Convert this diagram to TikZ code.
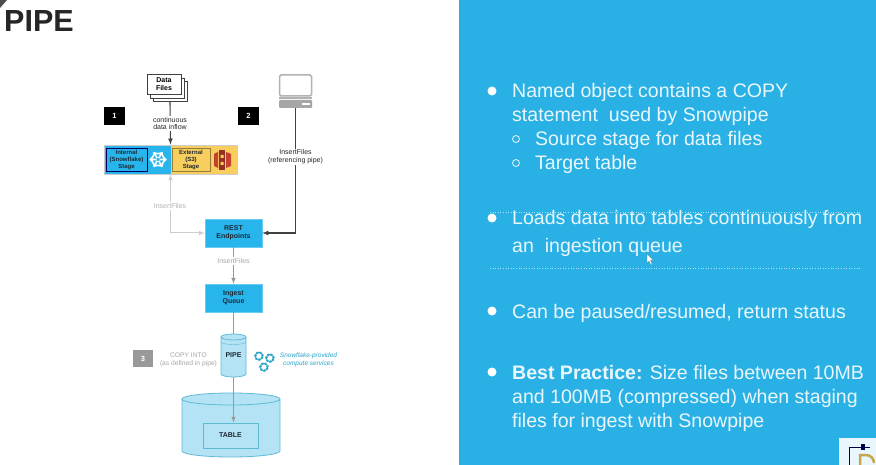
\documentclass[tikz,border=0pt]{standalone}
\usepackage{fontspec}
\setmainfont{Liberation Sans}
\usetikzlibrary{arrows,scopes}
\definecolor{panelblue}{HTML}{29B1E6}
\definecolor{boxblue}{HTML}{27B5EC}
\definecolor{stageyellow}{HTML}{F8CF5F}
\definecolor{pipeblue}{HTML}{B4E3F5}
\definecolor{pipeline}{HTML}{5FBAD6}
\definecolor{paletext}{HTML}{E9F7FC}
\definecolor{gearblue}{HTML}{2AA5C8}
\definecolor{darktext}{HTML}{1F2A33}
\definecolor{bucketred}{HTML}{C5402F}
\tikzset{
  sheet/.style={draw=black!75,fill=white,line width=0.6pt,minimum width=34,minimum height=20,inner sep=0pt,font=\fontsize{7}{8}\selectfont\bfseries,align=center},
  numbox/.style={fill=black,text=white,minimum width=21,minimum height=18,inner sep=0pt,font=\fontsize{7.5}{8}\selectfont\bfseries},
  bluebox/.style={fill=boxblue,draw=boxblue!70!white,minimum width=57,minimum height=28,inner sep=0pt,align=center,font=\fontsize{7}{8}\selectfont\bfseries,text=darktext},
  small/.style={font=\fontsize{7}{7.7}\selectfont,align=center,inner sep=1pt},
  stagelabel/.style={minimum height=23,inner sep=0pt,line width=0.7pt,align=center,font=\fontsize{6}{7}\selectfont\bfseries,text=darktext},
  bullet/.style={circle,fill=white,minimum size=9,inner sep=0pt},
  subbullet/.style={circle,draw=paletext,line width=0.8pt,minimum size=7,inner sep=0pt},
  panel/.style={anchor=base west,text=paletext,inner sep=0pt,font=\fontsize{19.55}{23}\selectfont},
  gear/.style={draw=gearblue,line width=1pt,circle,minimum size=7.5,inner sep=0pt,postaction={draw=gearblue,line width=2.2pt,dash pattern=on 1.5pt off 1.9pt}},
  tankline/.style={draw=pipeline,fill=pipeblue,line width=0.8pt},
  dots/.style={draw=paletext!70!panelblue,line width=0.8pt,dash pattern=on 0.8pt off 1.8pt},
}
% left, top, bottom, x radius, y radius
\newcommand{\tankshape}[5]{
  \draw[tankline] (#1,#2) -- (#1,#3) arc[start angle=180,end angle=360,x radius=#4pt,y radius=#5pt]
    -- ++(0,#2-#3) arc[start angle=0,end angle=360,x radius=#4pt,y radius=#5pt];
}
\begin{document}
\begin{tikzpicture}
  [
  x=1pt, y=-1pt,
  flow/.style={>=latex,draw=black!75,line width=1.1pt},
  faint/.style={>=latex,draw=black!20,line width=1pt},
  mid/.style={>=latex,draw=black!40,line width=1pt},
  ]
  \useasboundingbox (0,0) rectangle (876,465);
  \fill[white] (0,0) rectangle (459,465);
  \fill[panelblue] (459,0) rectangle (876,465);
  \fill[black!70] (0,0) -- (7,0) -- (0,8) -- cycle;
  \node[anchor=base west,inner sep=0pt,text=black!85,font=\fontsize{30.5}{34}\selectfont\bfseries] (title) at (4,32) {PIPE};

  % data files
  \node[sheet] (filesback) at (170,91) {};
  \node[sheet] (filesmid) at (167,88) {};
  \node[sheet] (files) at (164,84.5) {Data\\Files};

  % computer
  \node[draw=black!30,fill=white,line width=1.5pt,rounded corners=1.5pt,minimum width=32,minimum height=21,inner sep=0pt] (screen) at (295.5,85.5) {};
  \fill[black!30] (279,97) rectangle (312,99);
  \node[fill=black!35,rounded corners=1pt,minimum width=33,minimum height=8,inner sep=0pt] (base) at (295.5,104) {};
  \fill[white] (302,103) rectangle (310,105);

  \node[numbox] (one) at (114.5,116) {1};
  \node[numbox] (two) at (248.5,116) {2};
  \node[numbox,fill=black!40,minimum width=20,minimum height=17] (three) at (143,358.5) {3};

  % stage strip
  \fill[boxblue] (104,145.5) rectangle (170.5,174);
  \fill[stageyellow] (170.5,145.5) rectangle (237,174);
  \node[draw=black!20,line width=0.8pt,minimum width=133,minimum height=29,inner sep=0pt] (stage) at (170.5,159.5) {};
  \node[stagelabel,draw=black!60!blue,minimum width=41] (internal) at (126.5,159.5) {Internal\\(Snowflake)\\Stage};
  \node[stagelabel,draw=black!40!stageyellow,minimum width=38] (external) at (191,159.5) {External\\(S3)\\Stage};

  % snowflake
  \foreach \a in {0,60,...,300}
  {
    \draw[white,line width=1.6pt,shift={(158,159.5)},rotate=\a] (1.5,0) -- (8.5,0) (5,-3) -- (7.5,0) -- (5,3);
  }
  % bucket
  \fill[bucketred] (214,154) -- (218,152) -- (218,168) -- (214,166) -- cycle;
  \fill[bucketred] (226,152) -- (231,154) -- (231,166) -- (226,168) -- cycle;
  \fill[bucketred!75!black] (219,150) -- (225,150) -- (225,170) -- (219,170) -- cycle;
  \fill[stageyellow] (220.5,155) rectangle (223.5,158) (220.5,162) rectangle (223.5,165);

  \node[bluebox] (rest) at (233.5,233) {REST\\Endpoints};
  \node[bluebox] (ingest) at (233.5,298) {Ingest\\Queue};

  % cylinders
  \tankshape{221}{337}{374}{12.5}{3}
  \draw[pipeline,line width=0.4pt] (221,342) arc[start angle=180,end angle=360,x radius=12.5pt,y radius=2.5pt];
  \node[minimum width=25,minimum height=43,inner sep=0pt,font=\fontsize{7}{8}\selectfont\bfseries,text=darktext] (pipe) at (233.5,355.5) {PIPE};
  \tankshape{182}{399}{451}{49}{6}
  \node[minimum width=98,minimum height=64,inner sep=0pt] (table) at (231,425) {};
  \node[draw=pipeline,fill=pipeblue,line width=0.8pt,minimum width=55,minimum height=25,inner sep=0pt,font=\fontsize{7}{8}\selectfont\bfseries,text=darktext] (tablebox) at (230.5,435.5) {TABLE};

  % connectors
  {[flow,->]
    \draw (filesback.south) -- (stage.north);
    \draw (base.south) |- (rest.east);
  }
  {[faint,<->]
    \draw (rest.west) -| (stage.south);
  }
  {[mid,->]
    \draw (rest.south) -- (ingest.north);
    \draw (pipe.south) -- (pipe.south |- tablebox.north);
  }
  \draw[mid] (ingest.south) -- (pipe.north);

  \node[small,fill=white,text=black!85] (inflow) at (170,123.5) {continuous\\data inflow};
  \node[small,fill=white,text=black!85] (refpipe) at (295.5,157) {InsertFiles\\(referencing pipe)};
  \node[small,fill=white,text=black!30] (leftfiles) at (170,206) {InsertFiles};
  \node[small,fill=white,text=black!35] (midfiles) at (233.5,261) {InsertFiles};
  \node[small,text=black!35,font=\fontsize{6.7}{7.7}\selectfont] (copy) at (188.5,360) {COPY INTO\\(as defined in pipe)};

  % gears
  \node[gear] (gearone) at (259,356) {};
  \node[gear] (geartwo) at (270,358) {};
  \node[gear] (gearthree) at (264,367) {};
  \node[small,text=gearblue,font=\fontsize{6.5}{7.7}\selectfont\itshape] (compute) at (308.5,360) {Snowflake-provided\\compute services};

  % right hand text
  \node[bullet] (bulletone) at (492,91) {};
  \node[panel] (lineone) at (512,98) {Named object contains a COPY};
  \node[panel] (linetwo) at (512,122) {statement\ \ used by Snowpipe};
  \node[subbullet] (subone) at (516,139) {};
  \node[panel] (linethree) at (535,146) {Source stage for data files};
  \node[subbullet] (subtwo) at (516,163) {};
  \node[panel] (linefour) at (535,170) {Target table};

  \draw[dots] (490,212) -- (860,212);
  \node[bullet] (bullettwo) at (492,218) {};
  \node[panel] (linefive) at (512,225) {Loads data into tables continuously from};
  \node[panel] (linesix) at (512,253) {an\ \ ingestion queue};
  \draw[dots] (490,268) -- (860,268);
  \fill[white,draw=black!60,line width=0.2pt] (647,254) -- (647,263) -- (649,261) -- (651,265) -- (652,264) -- (650.5,260.5) -- (653,260) -- cycle;

  \node[bullet] (bulletthree) at (492,311) {};
  \node[panel] (lineseven) at (512,318) {Can be paused/resumed, return status};

  \node[bullet] (bulletfour) at (492,372) {};
  \node[panel] (lineeight) at (512,379) {\textbf{Best Practice:} Size files between 10MB};
  \node[panel] (linenine) at (512,403) {and 100MB (compressed) when staging};
  \node[panel] (lineten) at (512,427) {files for ingest with Snowpipe};

  % logo corner
  \fill[paletext] (839,438) rectangle (876,465);
  \draw[black!70!blue,line width=1pt] (849,465) -- (849,447) -- (870,447);
  \fill[black!70!blue] (861,444) rectangle (865,450);
  \draw[stageyellow!80!black,line width=2.5pt] (860,465) -- (860,455) -- (866,455) arc[start angle=90,end angle=0,radius=8pt];
\end{tikzpicture}
\end{document}
